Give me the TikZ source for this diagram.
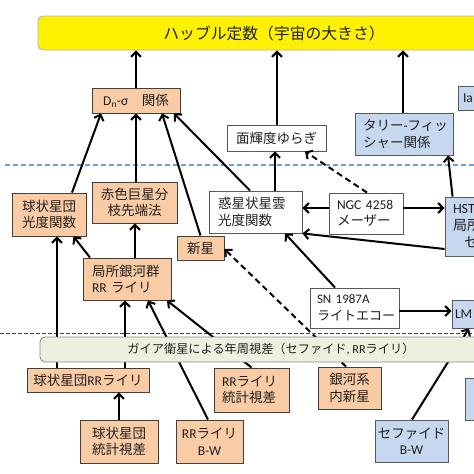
\documentclass[tikz,border=0pt]{standalone}
\usepackage{fontspec}
\setmainfont{Noto Sans CJK JP}
\newfontfamily\lat{Carlito}
\usetikzlibrary{arrows.meta,calc}
\definecolor{peach}{HTML}{FACCA6}
\definecolor{bluefill}{HTML}{C6D8EF}
\definecolor{gaiafill}{HTML}{EBF1DE}
\definecolor{guideblue}{HTML}{6F9FD8}
\begin{document}
\begin{tikzpicture}[x=1pt,y=-1pt,
  box/.style={line width=0.9pt, inner sep=2pt, align=center, text=black!88,
    font=\fontsize{13.5}{16.5}\selectfont},
  peachbox/.style={box, fill=peach, draw=black!75},
  whitebox/.style={box, fill=white, draw=black!65},
  bluebox/.style={box, fill=bluefill, draw=black!65},
  arr/.style={line width=2pt, -{Straight Barb[length=5pt,width=10pt]}},
  darr/.style={arr, dash pattern=on 6pt off 4pt}]
\useasboundingbox (0,0) rectangle (474,474);
\clip (0,0) rectangle (474,474);
\fill[white] (0,0) rectangle (474,474);

% guide lines
\coordinate (gl1) at (5,165);
\coordinate (gr1) at (474,165);
\coordinate (gl2) at (0,333);
\coordinate (gr2) at (474,333);
\draw[guideblue, line width=1.2pt, dash pattern=on 5pt off 3pt] (gl1) -- (gr1);
\draw[black!75, line width=1pt, dash pattern=on 4pt off 2pt] (gl2) -- (gr2);

% top
\node[box, fill=yellow, draw=black!30, rounded corners=5pt, minimum width=472, minimum height=34,
  font=\fontsize{15.8}{18}\selectfont] (hub) at (274,33) {ハッブル定数（宇宙の大きさ）};

\node[peachbox, minimum width=88, minimum height=25] (dn) at (136,100.5)
  {{\lat D\textsubscript{n}-σ}　関係};
\node[whitebox, minimum width=99, minimum height=26] (men) at (276.5,138) {面輝度ゆらぎ};
\node[bluebox, minimum width=98, minimum height=42, inner xsep=8pt, text width=82pt, align=left]
  (tully) at (404,134) {\mbox{タリー{\lat -}フィッ}\\シャー関係};
\node[bluebox, minimum width=60, minimum height=24, inner xsep=5pt, text width=50pt, align=left]
  (ia) at (488,98) {{\lat Ia}};

% middle
\node[peachbox, minimum width=74, minimum height=43] (gcl) at (49,214.5) {球状星団\\光度関数};
\node[peachbox, minimum width=85, minimum height=41] (rgb) at (134.5,202.5) {赤色巨星分\\枝先端法};
\node[peachbox, minimum width=47, minimum height=24] (nova) at (200.5,248) {新星};
\node[peachbox, minimum width=88, minimum height=42, inner xsep=9pt, text width=70pt, align=left]
  (lgrr) at (127,279) {局所銀河群\\{\lat RR} ライリ};
\node[whitebox, minimum width=93, minimum height=42, inner xsep=9pt, text width=75pt, align=left]
  (pn) at (255.5,212) {惑星状星雲\\光度関数};
\node[whitebox, minimum width=74, minimum height=41, inner xsep=8pt, text width=58pt, align=left]
  (ngc) at (366,213.5) {{\lat NGC 4258}\\メーザー};
\node[bluebox, minimum width=60, minimum height=59, inner xsep=8pt, text width=44pt, align=left,
  font=\fontsize{14}{17}\selectfont]
  (hst) at (475,226.5) {{\lat HST}\\局所\\\hspace*{11pt}セ};
\node[whitebox, minimum width=89, minimum height=40, inner xsep=7pt, text width=75pt, align=left,
  font=\fontsize{13}{16.5}\selectfont]
  (sn) at (354.5,308) {{\lat SN 1987A}\\ライトエコー};
\node[bluebox, minimum width=60, minimum height=28, inner xsep=3pt, text width=54pt, align=left]
  (lmc) at (482,314) {{\lat LM}};

% bottom
\node[peachbox, minimum width=122, minimum height=24] (gcrr) at (88,380) {球状星団{\lat RR}ライリ};
\node[peachbox, minimum width=78, minimum height=43] (gcsp) at (119,441.5) {球状星団\\統計視差};
\node[peachbox, minimum width=67, minimum height=43] (rrbw) at (209.5,441.5) {{\lat RR}ライリ\\{\lat B-W}};
\node[peachbox, minimum width=75, minimum height=44, inner xsep=8pt, text width=59pt, align=left]
  (rrsp) at (251.5,390) {{\lat RR}ライリ\\統計視差};
\node[peachbox, minimum width=63, minimum height=42] (mwnova) at (349.5,388) {銀河系\\内新星};
\node[bluebox, minimum width=73, minimum height=42] (cepbw) at (411.5,441) {セファイド\\{\lat B-W}};
\node[bluebox, minimum width=60, minimum height=42] (rbox) at (495,399) {};

% arrows
\draw[arr] (dn.north) -- (dn.north |- hub.south);
\draw[arr] ($(men.north)+(0.5,0)$) -- ($(men.north |- hub.south)+(0.5,0)$);
\draw[arr] ($(tully.north)+(-1,0)$) -- ($(tully.north |- hub.south)+(-1,0)$);
\draw[arr] ($(gcl.north)+(23,0)$) -- ($(dn.south)+(-35,0)$);
\draw[arr] ($(rgb.north)+(1.5,0)$) -- (dn.south);
\draw[arr] (nova.north) -- ($(dn.south)+(26,0)$);
\draw[arr] ($(pn.north)+(-5.5,0)$) -- ($(dn.south)+(38,0)$);
\draw[arr] ($(pn.north)+(19.5,0)$) -- ($(men.south)+(-1.5,0)$);
\draw[darr] ($(ngc.north)+(1,0)$) -- ($(men.south)+(28.5,0)$);
\draw[arr] ($(ngc.west)+(0,-5.5)$) -- ($(pn.east)+(0,-4)$);
\draw[arr] ($(ngc.east)+(0,-5.5)$) -- ($(hst.west)+(0,-18.5)$);
\draw[arr] ($(hst.north west)+(8,0)$) -- ($(tully.south)+(44,0)$);
\draw[arr] ($(hst.west)+(0,22.5)$) -- (pn.south east);
\draw[arr] ($(sn.north)+(-19.5,0)$) -- ($(pn.south)+(29.5,0)$);
\draw[arr] ($(sn.east)+(0,3)$) -- ($(lmc.west)+(0,-3)$);
\draw[darr] ($(mwnova.north)+(-3.5,0)$) -- ($(nova.east)+(0,1)$);
\draw[arr] ($(gcrr.north)+(-31,0)$) -- ($(gcl.south)+(8,0)$);
\draw[arr] ($(gcrr.north)+(37,0)$) -- ($(lgrr.south)+(-2,0)$);
\draw[arr] ($(lgrr.north)+(-37,0)$) -- ($(gcl.south east)+(-13,0)$);
\draw[arr] ($(lgrr.north)+(8,0)$) -- ($(rgb.south)+(0.5,0)$);
\draw[arr] ($(rrbw.north)+(-1.5,0)$) -- ($(lgrr.south)+(21,0)$);
\draw[arr] (rrsp.north) -- ($(lgrr.south)+(40,0)$);
\draw[arr] (gcsp.north) -- ($(gcrr.south)+(31,0)$);
\draw[arr] ($(cepbw.north)+(0.5,0)$) -- ($(lmc.south)+(-13,0)$);

% Gaia band on top
\node[box, fill=gaiafill, draw=black!45, rounded corners=5pt, minimum width=462, minimum height=25,
  font=\fontsize{12.2}{14}\selectfont] (gaia) at (271,349.5)
  {ガイア衛星による年周視差（セファイド{\lat , RR}ライリ）};
\end{tikzpicture}
\end{document}
